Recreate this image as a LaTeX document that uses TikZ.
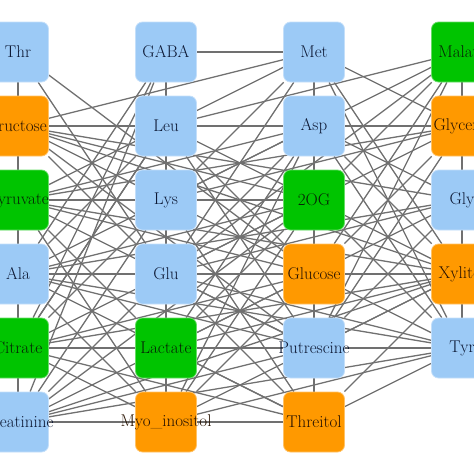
\documentclass[tikz,border=0pt]{standalone}
\usepackage{fontspec}
\usetikzlibrary{backgrounds}
\definecolor{metblue}{RGB}{156,202,246}
\definecolor{metorange}{RGB}{255,153,0}
\definecolor{metgreen}{RGB}{0,196,0}
\definecolor{edgegray}{RGB}{112,112,112}
\definecolor{bluetext}{RGB}{12,24,52}
\definecolor{orangetext}{RGB}{40,18,0}
\definecolor{greentext}{RGB}{6,34,6}
\tikzset{
    metab/.style = {rectangle, rounded corners = 7pt, minimum width = 61pt, minimum height = 60pt,
        inner sep = 0pt, line width = 0.8pt, font = \fontsize{17}{20}\selectfont},
    bluebox/.style = {metab, fill = metblue, draw = metblue!60!white, text = bluetext},
    orangebox/.style = {metab, fill = metorange, draw = metorange!60!white, text = orangetext},
    greenbox/.style = {metab, fill = metgreen, draw = metgreen!60!white, text = greentext},
    link/.style = {edgegray, line width = 1.3pt},
}
\begin{document}
\begin{tikzpicture}[x = 1pt, y = -1pt]
        \useasboundingbox (0,0) rectangle (474,474);
        % first column
        \node[bluebox] (thr) at (18,52) {\makebox[0pt]{Thr}};
        \node[orangebox] (fru) at (18,126) {\makebox[0pt]{Fructose}};
        \node[greenbox] (pyr) at (18,200) {\makebox[0pt]{Pyruvate}};
        \node[bluebox] (ala) at (18,274) {\makebox[0pt]{Ala}};
        \node[greenbox] (cit) at (18,348) {\makebox[0pt]{Citrate}};
        \node[bluebox] (cre) at (18,422) {\makebox[0pt]{Creatinine}};
        % second column
        \node[bluebox] (gaba) at (166,52) {\makebox[0pt]{GABA}};
        \node[bluebox] (leu) at (166,126) {\makebox[0pt]{Leu}};
        \node[bluebox] (lys) at (166,200) {\makebox[0pt]{Lys}};
        \node[bluebox] (glu) at (166,274) {\makebox[0pt]{Glu}};
        \node[greenbox] (lac) at (166,348) {\makebox[0pt]{Lactate}};
        \node[orangebox] (myo) at (166,422) {\makebox[0pt]{Myo\_inositol}};
        % third column
        \node[bluebox] (met) at (314,52) {\makebox[0pt]{Met}};
        \node[bluebox] (asp) at (314,126) {\makebox[0pt]{Asp}};
        \node[greenbox] (og) at (314,200) {\makebox[0pt]{2OG}};
        \node[orangebox] (glc) at (314,274) {\makebox[0pt]{Glucose}};
        \node[bluebox] (put) at (314,348) {\makebox[0pt]{Putrescine}};
        \node[orangebox] (thre) at (314,422) {\makebox[0pt]{Threitol}};
        % fourth column
        \node[greenbox] (mal) at (462,52) {\makebox[0pt]{Malate}};
        \node[orangebox] (glyc) at (462,126) {\makebox[0pt]{Glycerol}};
        \node[bluebox] (gly) at (462,200) {\makebox[0pt]{Gly}};
        \node[orangebox] (xyl) at (462,274) {\makebox[0pt]{Xylitol}};
        \node[bluebox] (tyr) at (462,348) {\makebox[0pt]{Tyr}};
        \begin{scope}[on background layer]
        \begin{scope}[link]
            % within columns
            \draw (thr) -- (fru) -- (pyr) -- (ala) -- (cit) -- (cre);
            \draw (gaba) -- (leu) -- (lys) -- (glu) -- (lac) -- (myo);
            \draw (met) -- (asp) -- (og) -- (glc) -- (put) -- (thre);
            \draw (mal) -- (glyc) -- (gly) -- (xyl) -- (tyr);
            % along rows
            \draw (gaba) -- (met);
            \draw (fru) -- (leu) -- (asp) -- (glyc);
            \draw (pyr) -- (lys) -- (og);
            \draw (ala) -- (glu) -- (glc) -- (xyl);
            \draw (cit) -- (lac) -- (put) -- (tyr);
            \draw (cre) -- (myo) -- (thre);
            % across
            \draw (thr) -- (glu) (thr) -- (glc);
            \draw (fru) -- (met) (fru) -- (og) (fru) -- (gly) (fru) -- (xyl) (fru) -- (lys) (fru) -- (put) (fru) -- (glu);
            \draw (pyr) -- (asp) (pyr) -- (glyc) (pyr) -- (glc) (pyr) -- (xyl) (pyr) -- (put) (pyr) -- (lac) (pyr) -- (myo);
            \draw (ala) -- (lys) (ala) -- (og) (ala) -- (leu) (ala) -- (asp) (ala) -- (gly) (ala) -- (lac) (ala) -- (put)
                (ala) -- (myo) (ala) -- (tyr) (ala) -- (thre);
            \draw (cit) -- (glu) (cit) -- (lys) (cit) -- (glc) (cit) -- (og) (cit) -- (myo) (cit) -- (thre) (cit) -- (xyl) (cit) -- (leu);
            \draw (cre) -- (lac) (cre) -- (glu) (cre) -- (put) (cre) -- (glc) (cre) -- (og) (cre) -- (tyr) (cre) -- (xyl) (cre) -- (lys);
            \draw (gaba) -- (ala) (gaba) -- (cit) (gaba) -- (cre);
            \draw (leu) -- (met) (leu) -- (og) (leu) -- (glc) (leu) -- (mal) (leu) -- (put) (leu) -- (pyr) (leu) -- (cit);
            \draw (lys) -- (met) (lys) -- (asp) (lys) -- (glyc) (lys) -- (glc) (lys) -- (thre);
            \draw (glu) -- (met) (glu) -- (asp) (glu) -- (og) (glu) -- (mal) (glu) -- (put) (glu) -- (thre) (glu) -- (tyr) (glu) -- (gly);
            \draw (lac) -- (asp) (lac) -- (og) (lac) -- (glc) (lac) -- (xyl) (lac) -- (thre) (lac) -- (gly);
            \draw (myo) -- (put) (myo) -- (glc) (myo) -- (og) (myo) -- (asp) (myo) -- (tyr) (myo) -- (xyl);
            \draw (met) -- (glyc) (met) -- (xyl) (met) -- (tyr);
            \draw (asp) -- (mal) (asp) -- (gly) (asp) -- (tyr) (asp) -- (xyl);
            \draw (og) -- (mal) (og) -- (glyc) (og) -- (xyl) (og) -- (tyr);
            \draw (glc) -- (mal) (glc) -- (glyc) (glc) -- (tyr);
            \draw (put) -- (glyc) (put) -- (mal) (put) -- (xyl) (put) -- (gly);
            \draw (thre) -- (tyr) (thre) -- (xyl);
        \end{scope}
        \end{scope}
    \end{tikzpicture}
\end{document}
